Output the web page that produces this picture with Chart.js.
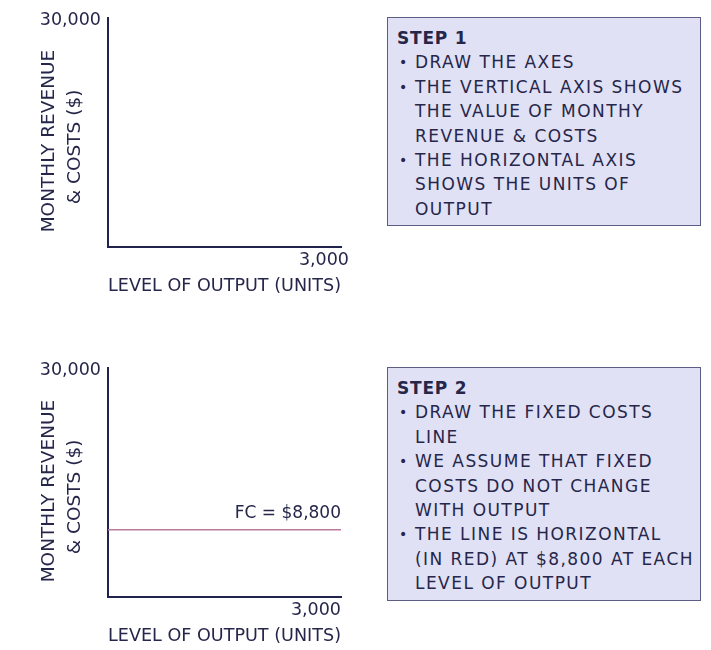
<!DOCTYPE html>
<html>
<head>
<meta charset="utf-8">
<script src="https://cdn.jsdelivr.net/npm/chart.js@4.4.1/dist/chart.umd.min.js"></script>
<style>
  body { margin: 0; background: #fff; width: 711px; height: 650px; position: relative; overflow: hidden;
         font-family: "DejaVu Sans", sans-serif; color: #26264a; }
  .chart-wrap { position: absolute; left: 0; width: 370px; height: 305px; }
  .step-box { position: absolute; left: 387px; width: 314px; box-sizing: border-box;
              background: #e1e1f5; border: 1.5px solid #5c5c84; padding: 8px 0 0 9px;
              font-size: 17px; line-height: 24.4px; letter-spacing: 1.45px; white-space: nowrap; }
  .step-box h4 { margin: 0; font-size: 17px; font-weight: bold; letter-spacing: 0.8px; }
  .step-box ul { list-style: none; margin: 0; padding: 0; }
  .step-box li { position: relative; padding-left: 18px; }
  .step-box li::before { content: "\2022"; position: absolute; left: 2px; font-size: 14px; }
</style>
</head>
<body>
<div class="chart-wrap" style="top:0"><canvas id="axesChart"></canvas></div>
<div class="chart-wrap" style="top:350px"><canvas id="fixedCostChart"></canvas></div>

<div class="step-box" style="top:17px;height:209px">
  <h4>STEP 1</h4>
  <ul>
    <li>DRAW THE AXES</li>
    <li>THE VERTICAL AXIS SHOWS<br>THE VALUE OF MONTHY<br>REVENUE &amp; COSTS</li>
    <li>THE HORIZONTAL AXIS<br>SHOWS THE UNITS OF<br>OUTPUT</li>
  </ul>
</div>

<div class="step-box" style="top:367px;height:234px">
  <h4>STEP 2</h4>
  <ul>
    <li>DRAW THE FIXED COSTS<br>LINE</li>
    <li>WE ASSUME THAT FIXED<br>COSTS DO NOT CHANGE<br>WITH OUTPUT</li>
    <li>THE LINE IS HORIZONTAL<br>(IN RED) AT $8,800 AT EACH<br>LEVEL OF OUTPUT</li>
  </ul>
</div>

<script>
// axis ranges and labels
const outputRange = [0, 3000];
const costRange = [0, 30000];
const xTickValues = [3000];
const yTickValues = [30000];
const xAxisTitle = 'LEVEL OF OUTPUT (UNITS)';
// trailing spaces push the rotated lines a little lower, as in the original
const yAxisTitle = ['MONTHLY REVENUE\u00a0\u00a0\u00a0', '& COSTS ($)\u00a0\u00a0\u00a0\u00a0\u00a0'];

// fixed costs series (step 2)
const fcOutput = [0, 3000];
const fcValues = [8800, 8800];
const fcLabel = 'FC = $8,800';

const inkColor = '#26264a';
const axisColor = '#22224f';
const fcColor = '#b97aa0';
const fontFamily = '"DejaVu Sans", sans-serif';

// writes the line label just above the end of each line
const lineLabelPlugin = {
    id: 'lineLabel',
    afterDatasetsDraw(chart) {
        const { ctx, scales } = chart;
        chart.data.datasets.forEach(ds => {
            if (!ds.endLabel) return;
            const last = ds.data[ds.data.length - 1];
            const x = scales.x.getPixelForValue(last.x);
            const y = scales.y.getPixelForValue(last.y);
            ctx.save();
            ctx.font = `17px ${fontFamily}`;
            ctx.fillStyle = inkColor;
            ctx.textAlign = 'right';
            ctx.textBaseline = 'middle';
            ctx.fillText(ds.endLabel, x, y - 16);
            ctx.restore();
        });
    }
};

function buildChart(canvasId, datasets, xLabelOffset) {
    return new Chart(document.getElementById(canvasId), {
        type: 'line',
        data: { datasets },
        plugins: [lineLabelPlugin],
        options: {
            responsive: true, maintainAspectRatio: false, animation: false,
            layout: { padding: { top: 15, right: 29, left: 0, bottom: 0 } },
            plugins: { legend: { display: false }, tooltip: { enabled: false } },
            scales: {
                x: {
                    type: 'linear', min: outputRange[0], max: outputRange[1],
                    afterBuildTicks: axis => { axis.ticks = xTickValues.map(v => ({ value: v })); },
                    afterFit: axis => { axis.height = 58; },
                    grid: { display: false, drawTicks: false },
                    border: { display: true, color: axisColor, width: 2 },
                    ticks: { color: inkColor, font: { family: fontFamily, size: 17.5 }, padding: 3,
                             align: 'end', labelOffset: xLabelOffset, maxRotation: 0,
                             callback: v => v.toLocaleString('en-US') },
                    title: { display: true, text: xAxisTitle, color: inkColor,
                             font: { family: fontFamily, size: 18.5 }, padding: { top: 0, bottom: 8 } }
                },
                y: {
                    type: 'linear', min: costRange[0], max: costRange[1],
                    afterBuildTicks: axis => { axis.ticks = yTickValues.map(v => ({ value: v })); },
                    afterFit: axis => { axis.width = 108; },
                    grid: { display: false, drawTicks: false },
                    border: { display: true, color: axisColor, width: 2 },
                    ticks: { color: inkColor, font: { family: fontFamily, size: 17.5 }, padding: 7,
                             labelOffset: 3, callback: v => v.toLocaleString('en-US') },
                    title: { display: true, text: yAxisTitle, color: inkColor,
                             font: { family: fontFamily, size: 18.5, lineHeight: 1.43 },
                             padding: { top: 36, bottom: 0 } }
                }
            }
        }
    });
}

buildChart('axesChart', [], 8);

buildChart('fixedCostChart', [{
    label: 'Fixed costs',
    data: fcOutput.map((x, i) => ({ x, y: fcValues[i] })),
    borderColor: fcColor, borderWidth: 1.5, pointRadius: 0, fill: false,
    endLabel: fcLabel
}], 0);
</script>
</body>
</html>
